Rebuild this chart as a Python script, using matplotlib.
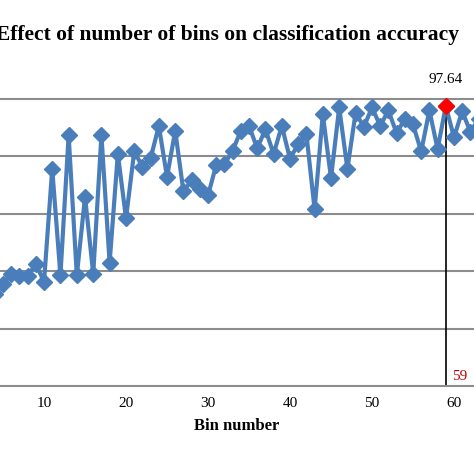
import matplotlib
matplotlib.use("Agg")
import matplotlib.pyplot as plt

bins = list(range(4, 64))
acc = [91.2, 91.54, 91.91, 91.83, 91.83, 92.25, 91.63, 95.56, 91.85, 96.73,
       91.85, 94.59, 91.91, 96.73, 92.29, 96.08, 93.84, 96.17, 95.64, 95.93,
       97.06, 95.28, 96.89, 94.78, 95.16, 94.87, 94.64, 95.70, 95.73, 96.19,
       96.89, 97.06, 96.28, 96.94, 96.08, 97.06, 95.91, 96.43, 96.77, 94.15,
       97.46, 95.24, 97.7, 95.56, 97.52, 97.02, 97.7, 97.06, 97.6, 96.8,
       97.31, 97.11, 96.17, 97.6, 96.25, 97.75, 96.66, 97.57, 96.85, 97.3]
best_bin = 59
best_acc = 97.64
xticks = [10, 20, 30, 40, 50, 60]
yticks = [90, 92, 94, 96, 98]

serif = ["Liberation Serif", "DejaVu Serif"]
fig = plt.figure(figsize=(4.74, 4.74), dpi=100)
ax = fig.add_axes([0, 88/474, 1, 290/474])
ax.plot(bins, acc, color="#4a7ebb", lw=3, marker="D", ms=8, zorder=3)
ax.plot([best_bin], [acc[bins.index(best_bin)]], marker="D", ms=8, color="red", ls="none", zorder=4)
ax.plot([best_bin, best_bin], [88, acc[bins.index(best_bin)]], color="black", lw=1.2, zorder=2)
ax.text(best_bin, 98.45, "97.64", ha="center", va="bottom",
        fontsize=11, family=serif)
ax.text(best_bin + 0.8, 88.1, "59", ha="left", va="bottom",
        fontsize=11, family=serif, color="#c00000")
ax.set_xlim(4.63, 62.44)
ax.set_ylim(88, 98.1)
ax.set_yticks(yticks)
ax.yaxis.grid(True, color="#8c8c8c", lw=1.5)
ax.set_axisbelow(True)
ax.set_xticks(xticks)
ax.set_xticklabels([str(t) for t in xticks], family=serif, fontsize=11)
ax.tick_params(axis="y", left=False, labelleft=False)
ax.tick_params(axis="x", length=0, pad=8)
for s in ["left", "right", "top"]:
    ax.spines[s].set_visible(False)
ax.spines["bottom"].set_color("#8c8c8c")
ax.spines["bottom"].set_linewidth(1.5)
ax.set_xlabel("Bin number", family=serif, fontsize=12, fontweight="bold", labelpad=6)
fig.text(-0.008, 1 - 35/474, "Effect of number of bins on classification accuracy",
         family=serif, fontsize=15.5, fontweight="bold", ha="left", va="center")
fig.savefig("out.png", dpi=100)
